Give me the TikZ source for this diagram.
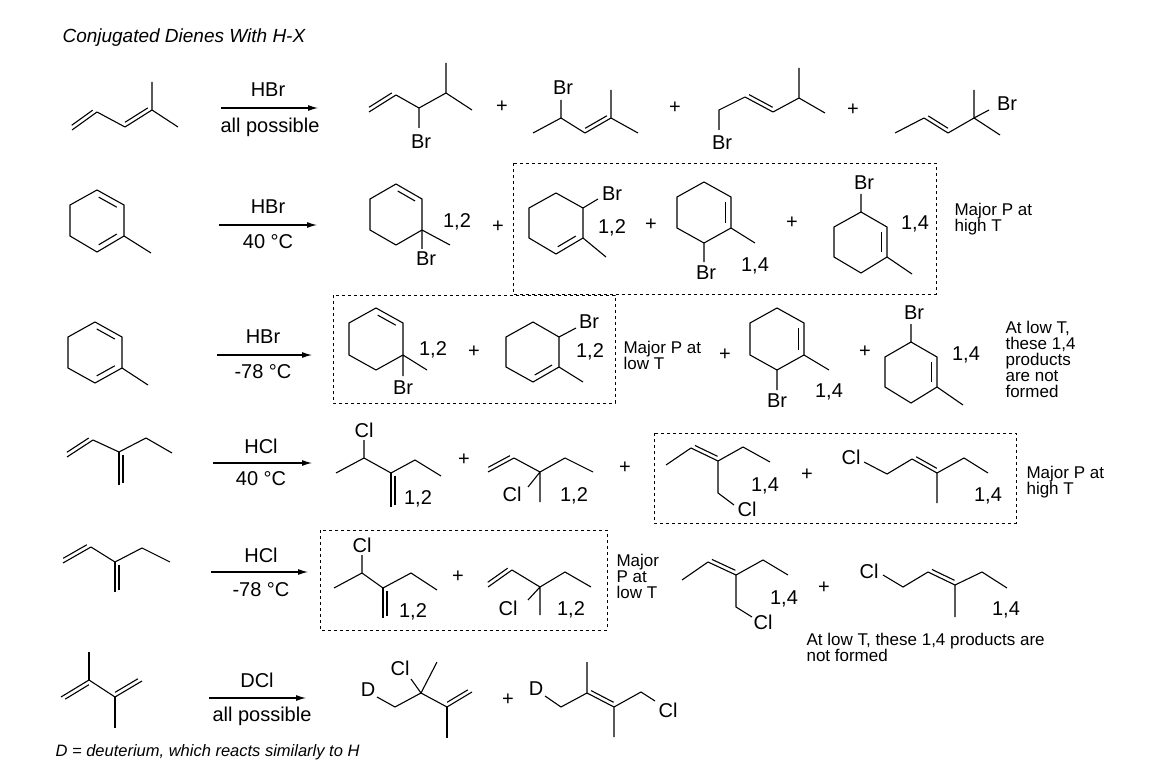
\documentclass[tikz,border=0pt]{standalone}
\usepackage{fontspec}
\setmainfont{Liberation Sans}
\usetikzlibrary{calc,arrows.meta}
\newcommand\dbl[3]{\draw (#1)--(#2); \draw[shorten <=2.5pt,shorten >=2.5pt] ($(#1)!4pt!#3:(#2)$) -- ($(#2)!4pt!-#3:(#1)$);}
\newcommand\rdb[3]{\draw[shorten <=2pt,shorten >=2pt] ($(#1)!0.2!(#3)$) -- ($(#2)!0.2!(#3)$);}
\newcommand\hexa[7]{\draw (#1)--(#2)--(#3)--(#4)--(#5)--(#6)--cycle;}
\begin{document}
\begin{tikzpicture}[x=1pt,y=-1pt,line width=1.1pt,
 lb/.style={font=\fontsize{20}{22}\selectfont,inner sep=0pt},
 nt/.style={font=\fontsize{17}{16}\selectfont,inner sep=0pt,anchor=west,align=left},
 rx/.style={-{Latex[length=10pt,width=6pt]}},
 bx/.style={dashed,line width=0.9pt}]
\useasboundingbox[fill=white] (0,0) rectangle (1162,778);
\node[lb,anchor=west,font=\fontsize{19}{21}\selectfont\itshape] (title) at (62,38) {Conjugated Dienes With H-X};
% ---------- Row 1
\dbl{72,130}{97,112}{90}\draw (97,112)--(125,127); \dbl{125,127}{152,110}{90}\draw (152,110)--(152,82) (152,110)--(178,127);
\draw[rx] (221,108)--(318,108);
\node[lb] (r1a) at (268,90) {HBr}; \node[lb] (r1b) at (270,127) {all possible};
\dbl{369,112}{396,95}{90}\draw (396,95)--(419,108)--(446,93)--(446,63) (446,93)--(472,110) (419,108)--(419,128);
\node[lb] (b11) at (421,142) {Br};
\node[lb] (p11) at (502,107) {+};
\draw (533,133)--(561,118)--(585,133); \dbl{585,133}{611,118}{90}\draw (611,118)--(611,90) (611,118)--(638,133) (561,118)--(561,100);
\node[lb] (b12) at (563,88) {Br};
\node[lb] (p12) at (675,108) {+};
\draw (719,130)--(719,110)--(745,97); \dbl{745,97}{773,112}{90}\draw (773,112)--(799,98)--(799,68) (799,98)--(825,113);
\node[lb] (b13) at (722,143) {Br};
\node[lb] (p13) at (853,110) {+};
\draw (895,133)--(924,118); \dbl{924,118}{948,133}{90}\draw (948,133)--(974,118)--(974,90) (974,118)--(1000,135) (974,118)--(989,110);
\node[lb] (b14) at (1007,104) {Br};
% ---------- Row 2
\hexa{97,190}{124,205}{124,236}{97,252}{70,236}{70,205}{}
\rdb{97,190}{124,205}{97,221}\rdb{124,236}{97,252}{97,221}\draw (124,236)--(151,253);
\draw[rx] (219,225)--(317,225);
\node[lb] (r2a) at (268,207) {HBr}; \node[lb] (r2b) at (268,242) {40 °C};
\hexa{396,184}{422,199}{422,230}{396,245}{370,230}{370,199}{}
\rdb{396,184}{422,199}{396,214}\draw (422,230)--(450,245) (422,230)--(422,249);
\node[lb] (b21) at (426,259) {Br}; \node[lb] (n21) at (457,222) {1,2};
\node[lb] (p21) at (498,227) {+};
\draw[bx] (513,163) rectangle (936,294);
\hexa{556,193}{583,208}{583,238}{556,254}{529,238}{529,208}{}
\rdb{583,238}{556,254}{556,223}\draw (583,238)--(606,257) (583,208)--(598,199);
\node[lb] (b22) at (612,194) {Br}; \node[lb] (n22) at (612,228) {1,2};
\node[lb] (p22) at (651,225) {+};
\hexa{704,182}{731,197}{731,228}{704,243}{677,228}{677,197}{}
\rdb{731,197}{731,228}{704,212}\draw (731,228)--(755,243) (704,243)--(704,262);
\node[lb] (b23) at (706,273) {Br}; \node[lb] (n23) at (755,266) {1,4};
\node[lb] (p23) at (792,223) {+};
\hexa{861,212}{887,227}{887,257}{861,273}{834,257}{834,227}{}
\rdb{887,227}{887,257}{861,242}\draw (887,257)--(912,274) (861,212)--(861,194);
\node[lb] (b24) at (864,183) {Br}; \node[lb] (n24) at (915,224) {1,4};
\node[nt] (m2) at (954,219) {Major P at\\high T};
% ---------- Row 3
\hexa{95,322}{122,337}{122,368}{95,383}{68,368}{68,337}{}
\rdb{95,322}{122,337}{95,352}\rdb{122,368}{95,383}{95,352}\draw (122,368)--(148,385);
\draw[rx] (217,355)--(312,355);
\node[lb] (r3a) at (263,337) {HBr}; \node[lb] (r3b) at (263,372) {-78 °C};
\draw[bx] (333,295) rectangle (615,403);
\hexa{376,308}{403,323}{403,355}{376,370}{349,355}{349,323}{}
\rdb{376,308}{403,323}{376,339}\draw (403,355)--(427,370) (403,355)--(403,376);
\node[lb] (b31) at (403,388) {Br}; \node[lb] (n31) at (433,350) {1,2};
\node[lb] (p31) at (474,352) {+};
\hexa{533,322}{559,337}{559,367}{533,382}{506,367}{506,337}{}
\rdb{559,367}{533,382}{533,352}\draw (559,367)--(583,382) (559,337)--(576,328);
\node[lb] (b32) at (589,322) {Br}; \node[lb] (n32) at (590,352) {1,2};
\node[nt] (m3) at (623,355) {Major P at\\low T};
\node[lb] (p32) at (725,355) {+};
\hexa{777,308}{804,323}{804,355}{777,370}{750,355}{750,323}{}
\rdb{804,323}{804,355}{777,339}\draw (804,355)--(829,370) (777,370)--(777,390);
\node[lb] (b33) at (777,401) {Br}; \node[lb] (n33) at (829,392) {1,4};
\node[lb] (p33) at (865,352) {+};
\hexa{911,342}{937,357}{937,387}{911,403}{885,387}{885,357}{}
\rdb{937,357}{937,387}{911,372}\draw (937,387)--(963,405) (911,342)--(911,324);
\node[lb] (b34) at (914,313) {Br}; \node[lb] (n34) at (966,355) {1,4};
\node[nt] (m3b) at (1005,359) {At low T,\\these 1,4\\products\\are not\\formed};
% ---------- Row 4
\dbl{67,457}{93,440}{90}\draw (93,440)--(119,452); \dbl{119,452}{119,485}{90}\draw (119,452)--(146,438)--(172,453);
\draw[rx] (213,463)--(312,463);
\node[lb] (r4a) at (261,446) {HCl}; \node[lb] (r4b) at (261,479) {40 °C};
\draw (336,473)--(364,458)--(391,473) (364,458)--(364,440);
\node[lb] (c41) at (364,430) {Cl};
\dbl{391,473}{391,507}{90}\draw (391,473)--(415,460)--(441,476);
\node[lb] (n41) at (418,499) {1,2};
\node[lb] (p41) at (464,460) {+};
\dbl{488,472}{514,458}{90}\draw (514,458)--(540,472)--(565,458)--(593,472) (540,472)--(540,502) (540,472)--(528,487);
\node[lb] (c42) at (512,494) {Cl}; \node[lb] (n42) at (574,496) {1,2};
\node[lb] (p42) at (625,468) {+};
\draw[bx] (654,433) rectangle (1016,523);
\draw (666,465)--(691,448); \dbl{691,448}{718,461}{90}\draw (718,461)--(743,447)--(770,462) (718,461)--(718,493)--(734,505);
\node[lb] (c43) at (747,509) {Cl}; \node[lb] (n43) at (765,486) {1,4};
\node[lb] (p43) at (807,475) {+};
\draw (864,462)--(887,474)--(912,459); \dbl{912,459}{937,473}{90}\draw (937,473)--(964,458)--(988,473) (937,473)--(937,503);
\node[lb] (c44) at (851,457) {Cl}; \node[lb] (n44) at (988,496) {1,4};
\node[nt] (m4) at (1026,482) {Major P at\\high T};
% ---------- Row 5
\dbl{63,563}{91,547}{90}\draw (91,547)--(115,562); \dbl{115,562}{115,592}{90}\draw (115,562)--(142,548)--(170,562);
\draw[rx] (211,572)--(308,572);
\node[lb] (r5a) at (261,555) {HCl}; \node[lb] (r5b) at (261,590) {-78 °C};
\draw[bx] (320,530) rectangle (607,630);
\draw (334,588)--(362,573)--(383,588) (362,573)--(362,555);
\node[lb] (c51) at (362,545) {Cl};
\dbl{383,588}{383,618}{90}\draw (383,588)--(411,573)--(437,590);
\node[lb] (n51) at (413,612) {1,2};
\node[lb] (p51) at (458,577) {+};
\dbl{488,587}{512,570}{90}\draw (512,570)--(540,587)--(565,572)--(591,587) (540,587)--(540,615) (540,587)--(528,600);
\node[lb] (c52) at (508,608) {Cl}; \node[lb] (n52) at (571,610) {1,2};
\node[nt] (m5) at (616,576) {Major\\P at\\low T};
\draw (682,580)--(708,562); \dbl{708,562}{736,575}{90}\draw (736,575)--(763,560)--(788,575) (736,575)--(736,607)--(752,617);
\node[lb] (c53) at (763,622) {Cl}; \node[lb] (n53) at (784,599) {1,4};
\node[lb] (p53) at (824,588) {+};
\draw (883,575)--(903,587)--(928,572); \dbl{928,572}{955,585}{90}\draw (955,585)--(982,572)--(1007,588) (955,585)--(955,617);
\node[lb] (c54) at (869,571) {Cl}; \node[lb] (n54) at (1006,610) {1,4};
\node[nt] (m5b) at (806,647) {At low T, these 1,4 products are\\not formed};
% ---------- Row 6
\draw (89,680)--(89,652); \dbl{89,680}{61,697}{90}\draw (89,680)--(115,697); \dbl{115,697}{142,681}{90}\draw (115,697)--(115,728);
\draw[rx] (209,698)--(306,698);
\node[lb] (r6a) at (257,680) {DCl}; \node[lb] (r6b) at (262,716) {all possible};
\node[lb] (d61) at (368,690) {D};
\draw (377,697)--(395,707)--(421,693)--(411,679) (421,693)--(437,662) (421,693)--(447,707); \dbl{447,707}{472,692}{90}\draw (447,707)--(447,738);
\node[lb] (c61) at (400,668) {Cl};
\node[lb] (p61) at (508,700) {+};
\node[lb] (d62) at (536,689) {D};
\draw (545,696)--(561,707)--(587,693)--(587,662); \dbl{587,693}{614,707}{90}\draw (614,707)--(614,737) (614,707)--(641,692)--(655,701);
\node[lb] (c62) at (668,710) {Cl};
\node[lb,anchor=west,font=\fontsize{16.5}{18}\selectfont\itshape] (foot) at (55,752) {D = deuterium, which reacts similarly to H};
\end{tikzpicture}
\end{document}
